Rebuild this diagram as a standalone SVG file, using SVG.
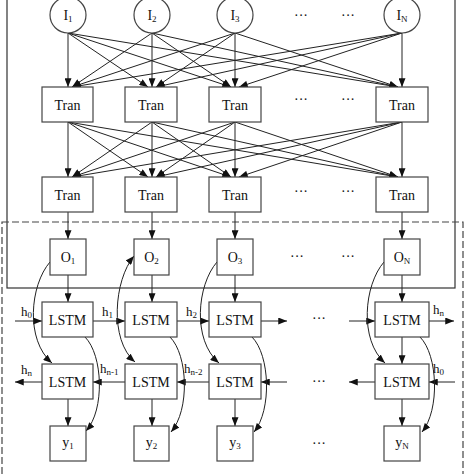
<svg xmlns="http://www.w3.org/2000/svg" width="474" height="474" viewBox="0 0 474 474">
<defs>
<marker id="ah" viewBox="0 0 10 8" refX="10" refY="4" markerWidth="9" markerHeight="7" markerUnits="userSpaceOnUse" orient="auto">
<path d="M0,0 L10,4 L0,8 Z" fill="#111"/>
</marker>
<marker id="ahs" viewBox="0 0 10 8" refX="10" refY="4" markerWidth="9" markerHeight="7" markerUnits="userSpaceOnUse" orient="auto-start-reverse">
<path d="M0,0 L10,4 L0,8 Z" fill="#111"/>
</marker>
</defs>
<style>
.b{fill:#fff;stroke:#444;stroke-width:1.2}
.t{font-family:"Liberation Serif","Times New Roman",serif;font-size:14px;fill:#111;text-anchor:middle}
.h{font-family:"Liberation Serif","Times New Roman",serif;font-size:13px;fill:#111}
.s{font-size:9px}
.c{fill:none;stroke:#222;stroke-width:1}
.a{fill:none;stroke:#222;stroke-width:1;marker-end:url(#ah)}
</style>
<rect width="474" height="474" fill="#fff"/>
<rect x="7" y="-5" width="448" height="293" fill="none" stroke="#333" stroke-width="1.2"/>
<rect x="2" y="222" width="461" height="270" fill="none" stroke="#444" stroke-width="1.2" stroke-dasharray="7,3"/>

<g id="connectors">
<!-- I to Tran1 -->
<line class="a" x1="68" y1="33" x2="68" y2="87"/>
<line class="a" x1="68" y1="33" x2="148" y2="87"/>
<line class="a" x1="68" y1="33" x2="231" y2="87"/>
<line class="a" x1="68" y1="33" x2="398" y2="87"/>
<line class="a" x1="152" y1="33" x2="72" y2="87"/>
<line class="a" x1="152" y1="33" x2="152" y2="87"/>
<line class="a" x1="152" y1="33" x2="231" y2="87"/>
<line class="a" x1="152" y1="33" x2="398" y2="87"/>
<line class="a" x1="235" y1="33" x2="72" y2="87"/>
<line class="a" x1="235" y1="33" x2="156" y2="87"/>
<line class="a" x1="235" y1="33" x2="235" y2="87"/>
<line class="a" x1="235" y1="33" x2="398" y2="87"/>
<line class="a" x1="402" y1="33" x2="72" y2="87"/>
<line class="a" x1="402" y1="33" x2="156" y2="87"/>
<line class="a" x1="402" y1="33" x2="239" y2="87"/>
<line class="a" x1="402" y1="33" x2="402" y2="87"/>
<!-- Tran1 to Tran2 -->
<line class="a" x1="68" y1="122" x2="68" y2="177"/>
<line class="a" x1="68" y1="122" x2="148" y2="177"/>
<line class="a" x1="68" y1="122" x2="231" y2="177"/>
<line class="a" x1="68" y1="122" x2="398" y2="177"/>
<line class="a" x1="152" y1="122" x2="72" y2="177"/>
<line class="a" x1="152" y1="122" x2="152" y2="177"/>
<line class="a" x1="152" y1="122" x2="231" y2="177"/>
<line class="a" x1="152" y1="122" x2="398" y2="177"/>
<line class="a" x1="235" y1="122" x2="72" y2="177"/>
<line class="a" x1="235" y1="122" x2="156" y2="177"/>
<line class="a" x1="235" y1="122" x2="235" y2="177"/>
<line class="a" x1="235" y1="122" x2="398" y2="177"/>
<line class="a" x1="402" y1="122" x2="72" y2="177"/>
<line class="a" x1="402" y1="122" x2="156" y2="177"/>
<line class="a" x1="402" y1="122" x2="239" y2="177"/>
<line class="a" x1="402" y1="122" x2="402" y2="177"/>
<!-- Tran2 to O -->
<line class="a" x1="68" y1="212" x2="68" y2="239"/>
<line class="a" x1="152" y1="212" x2="152" y2="239"/>
<line class="a" x1="235" y1="212" x2="235" y2="239"/>
<line class="a" x1="402" y1="212" x2="402" y2="239"/>
<!-- O to LSTM1 -->
<line class="a" x1="68" y1="275" x2="68" y2="302"/>
<line class="a" x1="152" y1="275" x2="152" y2="302"/>
<line class="a" x1="235" y1="275" x2="235" y2="302"/>
<line class="a" x1="402" y1="275" x2="402" y2="302"/>
<!-- LSTM1 N to LSTM2 N -->
<line class="a" x1="402" y1="337" x2="402" y2="364"/>
<!-- LSTM2 to y -->
<line class="a" x1="68" y1="399" x2="68" y2="426"/>
<line class="a" x1="152" y1="399" x2="152" y2="426"/>
<line class="a" x1="235" y1="399" x2="235" y2="426"/>
<line class="a" x1="402" y1="399" x2="402" y2="426"/>
<!-- forward row -->
<line class="a" x1="15" y1="321" x2="42" y2="321"/>
<line class="a" x1="93" y1="321" x2="125" y2="321"/>
<line class="a" x1="177" y1="321" x2="209" y2="321"/>
<line class="a" x1="261" y1="321" x2="287" y2="321"/>
<line class="a" x1="349" y1="321" x2="375" y2="321"/>
<line class="a" x1="429" y1="321" x2="454" y2="321"/>
<!-- backward row -->
<line class="a" x1="42" y1="382" x2="15" y2="382"/>
<line class="a" x1="125" y1="382" x2="93" y2="382"/>
<line class="a" x1="209" y1="382" x2="177" y2="382"/>
<line class="a" x1="287" y1="382" x2="261" y2="382"/>
<line class="a" x1="375" y1="382" x2="349" y2="382"/>
<line class="a" x1="455" y1="382" x2="429" y2="382"/>
<!-- O to LSTM2 curves -->
<path class="a" d="M50,262 C30,285 25,340 52,363"/>
<path class="a" d="M134,256 C114,280 109,340 135,362" marker-start="url(#ahs)"/>
<path class="a" d="M217,262 C197,285 192,340 219,363"/>
<path class="a" d="M384,262 C364,285 359,340 385,363"/>
<!-- LSTM1 to y curves -->
<path class="a" d="M85,337 C103,355 105,410 86,431"/>
<path class="a" d="M170,337 C188,355 190,410 171,432"/>
<path class="a" d="M252,337 C270,355 272,410 254,432"/>
<path class="a" d="M420,337 C438,355 440,410 422,432"/>
</g>

<g id="I1"><path class="c" d="M61,0 C58,-6 78,-6 75,0"/><circle class="b" cx="68" cy="15" r="18"/><text class="t" x="68" y="20">I<tspan class="s" dy="2">1</tspan></text></g>
<g id="I2"><path class="c" d="M145,0 C142,-6 162,-6 159,0"/><circle class="b" cx="152" cy="15" r="18"/><text class="t" x="152" y="20">I<tspan class="s" dy="2">2</tspan></text></g>
<g id="I3"><path class="c" d="M228,0 C225,-6 245,-6 242,0"/><circle class="b" cx="235" cy="15" r="18"/><text class="t" x="235" y="20">I<tspan class="s" dy="2">3</tspan></text></g>
<g id="IN"><path class="c" d="M395,0 C392,-6 412,-6 409,0"/><circle class="b" cx="402" cy="15" r="18"/><text class="t" x="402" y="20">I<tspan class="s" dy="2">N</tspan></text></g>

<g id="tran1-1"><rect class="b" x="42" y="87" width="51" height="35"/><text class="t" x="67.5" y="109.5">Tran</text></g>
<g id="tran1-2"><rect class="b" x="125" y="87" width="52" height="35"/><text class="t" x="151" y="109.5">Tran</text></g>
<g id="tran1-3"><rect class="b" x="209" y="87" width="52" height="35"/><text class="t" x="235" y="109.5">Tran</text></g>
<g id="tran1-N"><rect class="b" x="376" y="87" width="52" height="35"/><text class="t" x="402" y="109.5">Tran</text></g>

<g id="tran2-1"><rect class="b" x="42" y="177" width="51" height="35"/><text class="t" x="67.5" y="199.5">Tran</text></g>
<g id="tran2-2"><rect class="b" x="125" y="177" width="52" height="35"/><text class="t" x="151" y="199.5">Tran</text></g>
<g id="tran2-3"><rect class="b" x="209" y="177" width="52" height="35"/><text class="t" x="235" y="199.5">Tran</text></g>
<g id="tran2-N"><rect class="b" x="376" y="177" width="52" height="35"/><text class="t" x="402" y="199.5">Tran</text></g>

<g id="O1"><rect class="b" x="50" y="239" width="36" height="36"/><text class="t" x="68" y="262">O<tspan class="s" dy="2">1</tspan></text></g>
<g id="O2"><rect class="b" x="134" y="239" width="35" height="36"/><text class="t" x="151.5" y="262">O<tspan class="s" dy="2">2</tspan></text></g>
<g id="O3"><rect class="b" x="217" y="239" width="36" height="36"/><text class="t" x="235" y="262">O<tspan class="s" dy="2">3</tspan></text></g>
<g id="ON"><rect class="b" x="384" y="239" width="36" height="36"/><text class="t" x="402" y="262">O<tspan class="s" dy="2">N</tspan></text></g>

<g id="lstmf1"><rect class="b" x="42" y="302" width="51" height="35"/><text class="t" x="67.5" y="324.5">LSTM</text></g>
<g id="lstmf2"><rect class="b" x="125" y="302" width="52" height="35"/><text class="t" x="151" y="324.5">LSTM</text></g>
<g id="lstmf3"><rect class="b" x="209" y="302" width="52" height="35"/><text class="t" x="235" y="324.5">LSTM</text></g>
<g id="lstmfN"><rect class="b" x="375" y="302" width="54" height="35"/><text class="t" x="402" y="324.5">LSTM</text></g>

<g id="lstmb1"><rect class="b" x="42" y="364" width="51" height="35"/><text class="t" x="67.5" y="386.5">LSTM</text></g>
<g id="lstmb2"><rect class="b" x="125" y="364" width="52" height="35"/><text class="t" x="151" y="386.5">LSTM</text></g>
<g id="lstmb3"><rect class="b" x="209" y="364" width="52" height="35"/><text class="t" x="235" y="386.5">LSTM</text></g>
<g id="lstmbN"><rect class="b" x="375" y="364" width="54" height="35"/><text class="t" x="402" y="386.5">LSTM</text></g>

<g id="y1"><rect class="b" x="50" y="426" width="36" height="35"/><text class="t" x="68" y="447">y<tspan class="s" dy="2">1</tspan></text></g>
<g id="y2"><rect class="b" x="134" y="426" width="35" height="35"/><text class="t" x="151.5" y="447">y<tspan class="s" dy="2">2</tspan></text></g>
<g id="y3"><rect class="b" x="217" y="426" width="36" height="35"/><text class="t" x="235" y="447">y<tspan class="s" dy="2">3</tspan></text></g>
<g id="yN"><rect class="b" x="384" y="426" width="36" height="35"/><text class="t" x="402" y="447">y<tspan class="s" dy="2">N</tspan></text></g>

<g id="dots">
<text class="t" x="301" y="20">···</text><text class="t" x="348" y="20">···</text>
<text class="t" x="301" y="104">···</text><text class="t" x="348" y="104">···</text>
<text class="t" x="301" y="196">···</text><text class="t" x="348" y="196">···</text>
<text class="t" x="297" y="261">···</text><text class="t" x="348" y="261">···</text>
<text class="t" x="319" y="323">···</text>
<text class="t" x="319" y="386">···</text>
<text class="t" x="319" y="448">···</text>
</g>

<g id="labels">
<text class="h" x="21" y="316">h<tspan class="s" dy="2">0</tspan></text>
<text class="h" x="102" y="316">h<tspan class="s" dy="2">1</tspan></text>
<text class="h" x="186" y="316">h<tspan class="s" dy="2">2</tspan></text>
<text class="h" x="433" y="314">h<tspan class="s" dy="2">n</tspan></text>
<text class="h" x="21" y="374">h<tspan class="s" dy="2">n</tspan></text>
<text class="h" x="100" y="373">h<tspan class="s" dy="2">n-1</tspan></text>
<text class="h" x="184" y="373">h<tspan class="s" dy="2">n-2</tspan></text>
<text class="h" x="433" y="373">h<tspan class="s" dy="2">0</tspan></text>
</g>
</svg>
